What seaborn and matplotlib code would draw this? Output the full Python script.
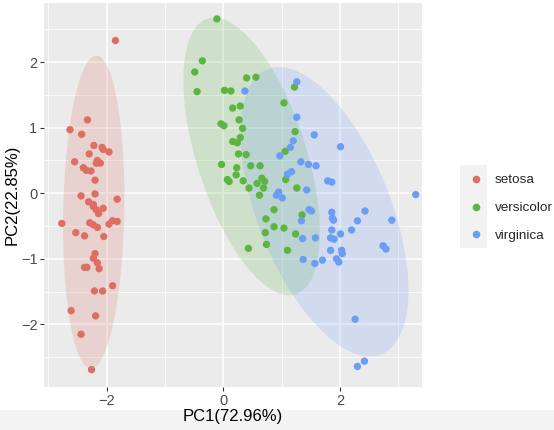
import numpy as np
import pandas as pd
import matplotlib
matplotlib.use("Agg")
import matplotlib.pyplot as plt
import seaborn as sns
from matplotlib.patches import Rectangle, Polygon
from matplotlib.lines import Line2D

# PCA scores
setosa_pc1 = [-1.85, -2.33, -2.63, -2.43, -2.22, -2.08, -2.06, -1.96, -2.30, -2.55,
              -2.16, -2.11, -2.18, -2.40, -2.35, -2.27, -2.20, -2.44, -2.20, -1.82,
              -2.31, -2.23, -2.06, -2.23, -2.14, -2.18, -2.77, -2.29, -2.23, -2.16,
              -1.96, -1.90, -1.82, -2.53, -2.38, -2.05, -2.20, -2.23, -2.16, -2.38,
              -2.34, -2.13, -2.21, -2.07, -1.90, -2.61, -2.19, -2.44, -2.26]
setosa_pc2 = [2.33, 1.12, 0.97, 0.90, 0.73, 0.70, 0.67, 0.63, 0.60, 0.48,
              0.50, 0.46, 0.46, 0.39, 0.35, 0.34, 0.20, -0.04, -0.01, -0.09,
              -0.13, -0.17, -0.23, -0.20, -0.31, -0.25, -0.46, -0.45, -0.48, -0.52,
              -0.47, -0.42, -0.43, -0.60, -0.65, -0.66, -0.92, -0.99, -1.06, -1.13,
              -1.13, -1.15, -1.49, -1.49, -1.41, -1.79, -1.87, -2.15, -2.69]

versicolor_pc1 = [-0.11, -0.36, -0.49, 0.40, 0.56, -0.45, 0.02, 0.13, 0.16, 0.29,
                  0.27, -0.04, 0.01, 0.33, 0.29, 0.16, 0.24, 0.26, 0.39, -0.03,
                  0.23, 0.47, 0.63, 0.22, 0.07, 0.10, 0.34, 0.58, 0.66, 0.71,
                  0.44, 0.69, 0.62, 0.73, 0.72, 0.74, 0.43, 1.22, 1.04, 1.23,
                  1.06, 1.07, 1.26, 0.87, 1.35, 0.87, 1.04, 1.24, 1.10]
versicolor_pc2 = [2.66, 2.02, 1.85, 1.76, 1.77, 1.55, 1.57, 1.56, 1.30, 1.33,
                  1.12, 1.06, 1.03, 0.99, 0.85, 0.79, 0.77, 0.60, 0.59, 0.44,
                  0.39, 0.42, 0.42, 0.28, 0.21, 0.18, 0.19, 0.15, 0.23, 0.18,
                  0.08, 0.08, -0.03, -0.39, -0.60, -0.78, -0.84, 1.62, 1.38, 0.94,
                  0.64, 0.21, 0.08, -0.25, -0.33, -0.51, -0.53, -0.62, -0.87]

virginica_pc1 = [0.37, 1.26, 1.26, 1.56, 1.20, 1.15, 2.01, 0.97, 1.33, 1.46,
                 1.59, 1.17, 1.10, 1.79, 1.86, 0.95, 1.01, 0.91, 1.43, 1.47,
                 1.51, 1.86, 1.87, 1.89, 1.34, 1.86, 2.01, 2.20, 1.36, 1.58,
                 1.84, 1.90, 1.84, 2.03, 2.04, 1.37, 1.57, 1.70, 1.94, 1.98,
                 3.30, 2.43, 2.30, 2.89, 2.74, 2.79, 2.26, 2.42, 2.30]
virginica_pc2 = [1.56, 1.70, 1.16, 0.89, 0.80, 0.70, 0.71, 0.57, 0.48, 0.44,
                 0.42, 0.33, 0.29, 0.19, 0.17, 0.02, -0.07, -0.03, 0.05, -0.25,
                 -0.27, -0.29, -0.38, -0.41, -0.42, -0.56, -0.62, -0.56, -0.69, -0.68,
                 -0.68, -0.70, -0.87, -0.87, -0.92, -1.01, -1.07, -1.02, -1.00, -1.05,
                 -0.02, -0.27, -0.42, -0.41, -0.80, -0.85, -1.92, -2.56, -2.64]

species = ["setosa", "versicolor", "virginica"]
colors = {"setosa": "#DE6E62", "versicolor": "#5DB541", "virginica": "#6B9DF6"}

df = pd.DataFrame({
    "PC1": setosa_pc1 + versicolor_pc1 + virginica_pc1,
    "PC2": setosa_pc2 + versicolor_pc2 + virginica_pc2,
    "Species": ["setosa"] * len(setosa_pc1) + ["versicolor"] * len(versicolor_pc1)
               + ["virginica"] * len(virginica_pc1),
})

sns.set_theme(style="darkgrid", rc={
    "axes.facecolor": "#EBEBEB",
    "grid.color": "white",
    "axes.edgecolor": "none",
    "xtick.color": "#333333",
    "ytick.color": "#333333",
    "xtick.bottom": True,
    "ytick.left": True,
})
plt.rcParams["font.family"] = ["Liberation Sans", "DejaVu Sans"]

fig = plt.figure(figsize=(5.54, 4.30), dpi=100)
ax = fig.add_axes([0.080, 0.1007, 0.682, 0.892])

# 95% ellipses (like stat_ellipse), drawn from each group's covariance
for sp in species:
    d = df[df.Species == sp]
    pts = d[["PC1", "PC2"]].to_numpy()
    mu = pts.mean(axis=0)
    cov = np.cov(pts.T)
    r = np.sqrt(2 * 3.19)  # sqrt(2 * qf(0.95, 2, n-1))
    vals, vecs = np.linalg.eigh(cov)
    t = np.linspace(0, 2 * np.pi, 200)
    circ = np.stack([np.cos(t), np.sin(t)])
    ell = (vecs @ np.diag(np.sqrt(vals)) @ circ) * r
    ell = ell.T + mu
    ax.add_patch(Polygon(ell, closed=True, facecolor=colors[sp], alpha=0.2,
                         edgecolor="none", zorder=1))

sns.scatterplot(data=df, x="PC1", y="PC2", hue="Species", palette=colors,
                s=28, edgecolor="none", linewidth=0, legend=False, ax=ax, zorder=3)

ax.set_xlim(-3.07, 3.41)
ax.set_ylim(-2.95, 2.90)
ax.set_xticks([-2, 0, 2])
ax.set_yticks([-2, -1, 0, 1, 2])
ax.set_xticks([-3, -1, 1, 3], minor=True)
ax.set_yticks([-2.5, -1.5, -0.5, 0.5, 1.5, 2.5], minor=True)
ax.grid(which="major", color="white", linewidth=1.1)
ax.grid(which="minor", color="white", linewidth=0.55)
ax.tick_params(which="major", length=3, width=0.8, labelsize=10.5, labelcolor="#4D4D4D", pad=2)
ax.tick_params(which="minor", length=0)
ax.set_xlabel("PC1(72.96%)", fontsize=12, color="black")
ax.set_ylabel("PC2(22.85%)", fontsize=12, color="black")
ax.xaxis.set_label_coords(0.5, -0.0764)
ax.xaxis.label.set_va("center")
ax.yaxis.set_label_coords(-0.0855, 0.5)
ax.yaxis.label.set_va("center")
for s in ax.spines.values():
    s.set_visible(False)

# legend with grey key background
fig.patches.append(Rectangle((460 / 554, 1 - 248 / 430), 27 / 554, 83 / 430,
                             transform=fig.transFigure, facecolor="#F2F2F2",
                             edgecolor="none", zorder=-1))
handles = [Line2D([], [], marker="o", linestyle="none", markersize=5.5,
                  markerfacecolor=colors[sp], markeredgecolor="none") for sp in species]
fig.legend(handles, species, loc="center left", bbox_to_anchor=(464 / 554, 1 - 208 / 430),
           frameon=False, fontsize=9.7, handletextpad=0.9, labelspacing=1.15,
           borderaxespad=0, handlelength=1.0)

# light band at the bottom of the screenshot
fig.patches.append(Rectangle((0, 0), 1, 20 / 430, transform=fig.transFigure,
                             facecolor="#F4F4F4", edgecolor="none", zorder=-1))

fig.savefig("out.png", dpi=100)
